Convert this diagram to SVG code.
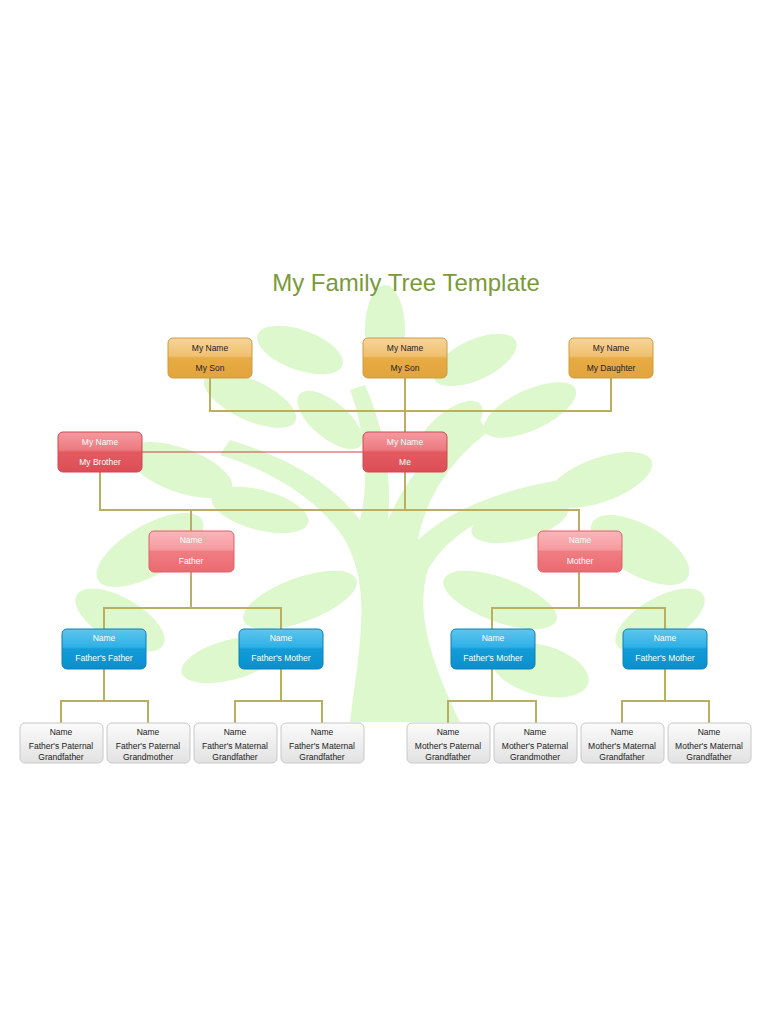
<svg xmlns="http://www.w3.org/2000/svg" width="768" height="1024" viewBox="0 0 768 1024">
<defs>
<linearGradient id="gO" x1="0" y1="0" x2="0" y2="1"><stop offset="0" stop-color="#f6d59a"/><stop offset="0.45" stop-color="#f0c070"/><stop offset="0.5" stop-color="#e8ac45"/><stop offset="1" stop-color="#e2a43c"/></linearGradient>
<linearGradient id="gR" x1="0" y1="0" x2="0" y2="1"><stop offset="0" stop-color="#f49aa0"/><stop offset="0.45" stop-color="#ec7a80"/><stop offset="0.5" stop-color="#e35a60"/><stop offset="1" stop-color="#dc4e55"/></linearGradient>
<linearGradient id="gP" x1="0" y1="0" x2="0" y2="1"><stop offset="0" stop-color="#fbb6ba"/><stop offset="0.45" stop-color="#f69ba0"/><stop offset="0.5" stop-color="#f07d83"/><stop offset="1" stop-color="#ea6a70"/></linearGradient>
<linearGradient id="gB" x1="0" y1="0" x2="0" y2="1"><stop offset="0" stop-color="#5ec6ee"/><stop offset="0.45" stop-color="#2fb0e6"/><stop offset="0.5" stop-color="#129cd8"/><stop offset="1" stop-color="#0c8fcc"/></linearGradient>
<linearGradient id="gG" x1="0" y1="0" x2="0" y2="1"><stop offset="0" stop-color="#fbfbfb"/><stop offset="1" stop-color="#e2e2e2"/></linearGradient>
</defs>
<style>
.t{font-family:"Liberation Sans",Arial,sans-serif;font-size:8.5px;text-anchor:middle}
.w{fill:#fff}.k{fill:#222}
.ln{stroke:#b8b060;stroke-width:2;fill:none}
.lf{fill:#dcf8cc}
</style>
<rect width="768" height="1024" fill="#fff"/>
<g id="tree">
<path class="lf" d="M350 722 C360 640 372 590 345 540 C320 500 270 470 220 455 L230 440 C280 455 330 480 360 520 C370 480 365 430 350 390 L365 385 C385 430 392 480 388 520 C410 470 440 440 480 420 L488 432 C450 460 425 500 418 540 C450 510 500 490 560 480 L562 494 C500 505 450 530 428 570 C415 610 430 660 460 722 Z"/>
<ellipse class="lf" cx="385" cy="330" rx="20" ry="45"/>
<ellipse class="lf" cx="300" cy="350" rx="45" ry="20" transform="rotate(20 300 350)"/>
<ellipse class="lf" cx="475" cy="360" rx="45" ry="20" transform="rotate(-25 475 360)"/>
<ellipse class="lf" cx="250" cy="400" rx="50" ry="20" transform="rotate(25 250 400)"/>
<ellipse class="lf" cx="530" cy="410" rx="50" ry="20" transform="rotate(-25 530 410)"/>
<ellipse class="lf" cx="330" cy="420" rx="40" ry="18" transform="rotate(40 330 420)"/>
<ellipse class="lf" cx="450" cy="430" rx="40" ry="18" transform="rotate(-40 450 430)"/>
<ellipse class="lf" cx="180" cy="470" rx="55" ry="22" transform="rotate(20 180 470)"/>
<ellipse class="lf" cx="600" cy="480" rx="55" ry="22" transform="rotate(-20 600 480)"/>
<ellipse class="lf" cx="150" cy="550" rx="60" ry="25" transform="rotate(-30 150 550)"/>
<ellipse class="lf" cx="640" cy="550" rx="55" ry="25" transform="rotate(30 640 550)"/>
<ellipse class="lf" cx="260" cy="510" rx="50" ry="20" transform="rotate(15 260 510)"/>
<ellipse class="lf" cx="520" cy="520" rx="50" ry="20" transform="rotate(-15 520 520)"/>
<ellipse class="lf" cx="300" cy="600" rx="60" ry="22" transform="rotate(-20 300 600)"/>
<ellipse class="lf" cx="500" cy="600" rx="60" ry="22" transform="rotate(20 500 600)"/>
<ellipse class="lf" cx="120" cy="620" rx="50" ry="22" transform="rotate(30 120 620)"/>
<ellipse class="lf" cx="660" cy="620" rx="50" ry="22" transform="rotate(-30 660 620)"/>
<ellipse class="lf" cx="230" cy="660" rx="50" ry="20" transform="rotate(-15 230 660)"/>
<ellipse class="lf" cx="540" cy="670" rx="50" ry="25" transform="rotate(15 540 670)"/>
</g>
<text x="406" y="291" font-family="Liberation Sans,Arial,sans-serif" font-size="24" fill="#7a9a3a" text-anchor="middle">My Family Tree Template</text>
<g id="connectors">
<path class="ln" d="M210 378V411H611V378M405 378V432M100 472V510H579V531M405 472V510M191 510V531M191 572V608M104 629V608H281V629M579 572V608M492 629V608H665V629M104 669V701M61 723V701H148V723M281 669V701M235 723V701H322V723M492 669V701M448 723V701H536V723M665 669V701M622 723V701H709V723"/>
<path d="M142 452H363" stroke="#d04048" stroke-width="1" fill="none"/>
</g>
<g id="son1"><rect x="168" y="338" width="84" height="40" rx="5" fill="url(#gO)" stroke="#d09a40"/><text class="t k" x="210" y="351">My Name</text><text class="t k" x="210" y="371">My Son</text></g>
<g id="son2"><rect x="363" y="338" width="84" height="40" rx="5" fill="url(#gO)" stroke="#d09a40"/><text class="t k" x="405" y="351">My Name</text><text class="t k" x="405" y="371">My Son</text></g>
<g id="daughter"><rect x="569" y="338" width="84" height="40" rx="5" fill="url(#gO)" stroke="#d09a40"/><text class="t k" x="611" y="351">My Name</text><text class="t k" x="611" y="371">My Daughter</text></g>
<g id="brother"><rect x="58" y="432" width="84" height="40" rx="5" fill="url(#gR)" stroke="#d04850"/><text class="t w" x="100" y="445">My Name</text><text class="t w" x="100" y="465">My Brother</text></g>
<g id="me"><rect x="363" y="432" width="84" height="40" rx="5" fill="url(#gR)" stroke="#d04850"/><text class="t w" x="405" y="445">My Name</text><text class="t w" x="405" y="465">Me</text></g>
<g id="father"><rect x="149" y="531" width="85" height="41" rx="5" fill="url(#gP)" stroke="#e06068"/><text class="t w" x="191" y="543">Name</text><text class="t w" x="191" y="564">Father</text></g>
<g id="mother"><rect x="538" y="531" width="84" height="41" rx="5" fill="url(#gP)" stroke="#e06068"/><text class="t w" x="580" y="543">Name</text><text class="t w" x="580" y="564">Mother</text></g>
<g id="ff"><rect x="62" y="629" width="84" height="40" rx="5" fill="url(#gB)" stroke="#0a80b8"/><text class="t w" x="104" y="641">Name</text><text class="t w" x="104" y="661">Father's Father</text></g>
<g id="fm"><rect x="239" y="629" width="84" height="40" rx="5" fill="url(#gB)" stroke="#0a80b8"/><text class="t w" x="281" y="641">Name</text><text class="t w" x="281" y="661">Father's Mother</text></g>
<g id="mf"><rect x="451" y="629" width="84" height="40" rx="5" fill="url(#gB)" stroke="#0a80b8"/><text class="t w" x="493" y="641">Name</text><text class="t w" x="493" y="661">Father's Mother</text></g>
<g id="mm"><rect x="623" y="629" width="84" height="40" rx="5" fill="url(#gB)" stroke="#0a80b8"/><text class="t w" x="665" y="641">Name</text><text class="t w" x="665" y="661">Father's Mother</text></g>
<g id="g1"><rect x="20" y="723" width="83" height="40" rx="5" fill="url(#gG)" stroke="#c8c8c8"/><text class="t k" x="61" y="735">Name</text><text class="t k" x="61" y="749">Father's Paternal</text><text class="t k" x="61" y="760">Grandfather</text></g>
<g id="g2"><rect x="107" y="723" width="83" height="40" rx="5" fill="url(#gG)" stroke="#c8c8c8"/><text class="t k" x="148" y="735">Name</text><text class="t k" x="148" y="749">Father's Paternal</text><text class="t k" x="148" y="760">Grandmother</text></g>
<g id="g3"><rect x="194" y="723" width="83" height="40" rx="5" fill="url(#gG)" stroke="#c8c8c8"/><text class="t k" x="235" y="735">Name</text><text class="t k" x="235" y="749">Father's Maternal</text><text class="t k" x="235" y="760">Grandfather</text></g>
<g id="g4"><rect x="281" y="723" width="83" height="40" rx="5" fill="url(#gG)" stroke="#c8c8c8"/><text class="t k" x="322" y="735">Name</text><text class="t k" x="322" y="749">Father's Maternal</text><text class="t k" x="322" y="760">Grandfather</text></g>
<g id="g5"><rect x="407" y="723" width="83" height="40" rx="5" fill="url(#gG)" stroke="#c8c8c8"/><text class="t k" x="448" y="735">Name</text><text class="t k" x="448" y="749">Mother's Paternal</text><text class="t k" x="448" y="760">Grandfather</text></g>
<g id="g6"><rect x="494" y="723" width="83" height="40" rx="5" fill="url(#gG)" stroke="#c8c8c8"/><text class="t k" x="535" y="735">Name</text><text class="t k" x="535" y="749">Mother's Paternal</text><text class="t k" x="535" y="760">Grandmother</text></g>
<g id="g7"><rect x="581" y="723" width="83" height="40" rx="5" fill="url(#gG)" stroke="#c8c8c8"/><text class="t k" x="622" y="735">Name</text><text class="t k" x="622" y="749">Mother's Maternal</text><text class="t k" x="622" y="760">Grandfather</text></g>
<g id="g8"><rect x="668" y="723" width="83" height="40" rx="5" fill="url(#gG)" stroke="#c8c8c8"/><text class="t k" x="709" y="735">Name</text><text class="t k" x="709" y="749">Mother's Maternal</text><text class="t k" x="709" y="760">Grandfather</text></g>
</svg>
